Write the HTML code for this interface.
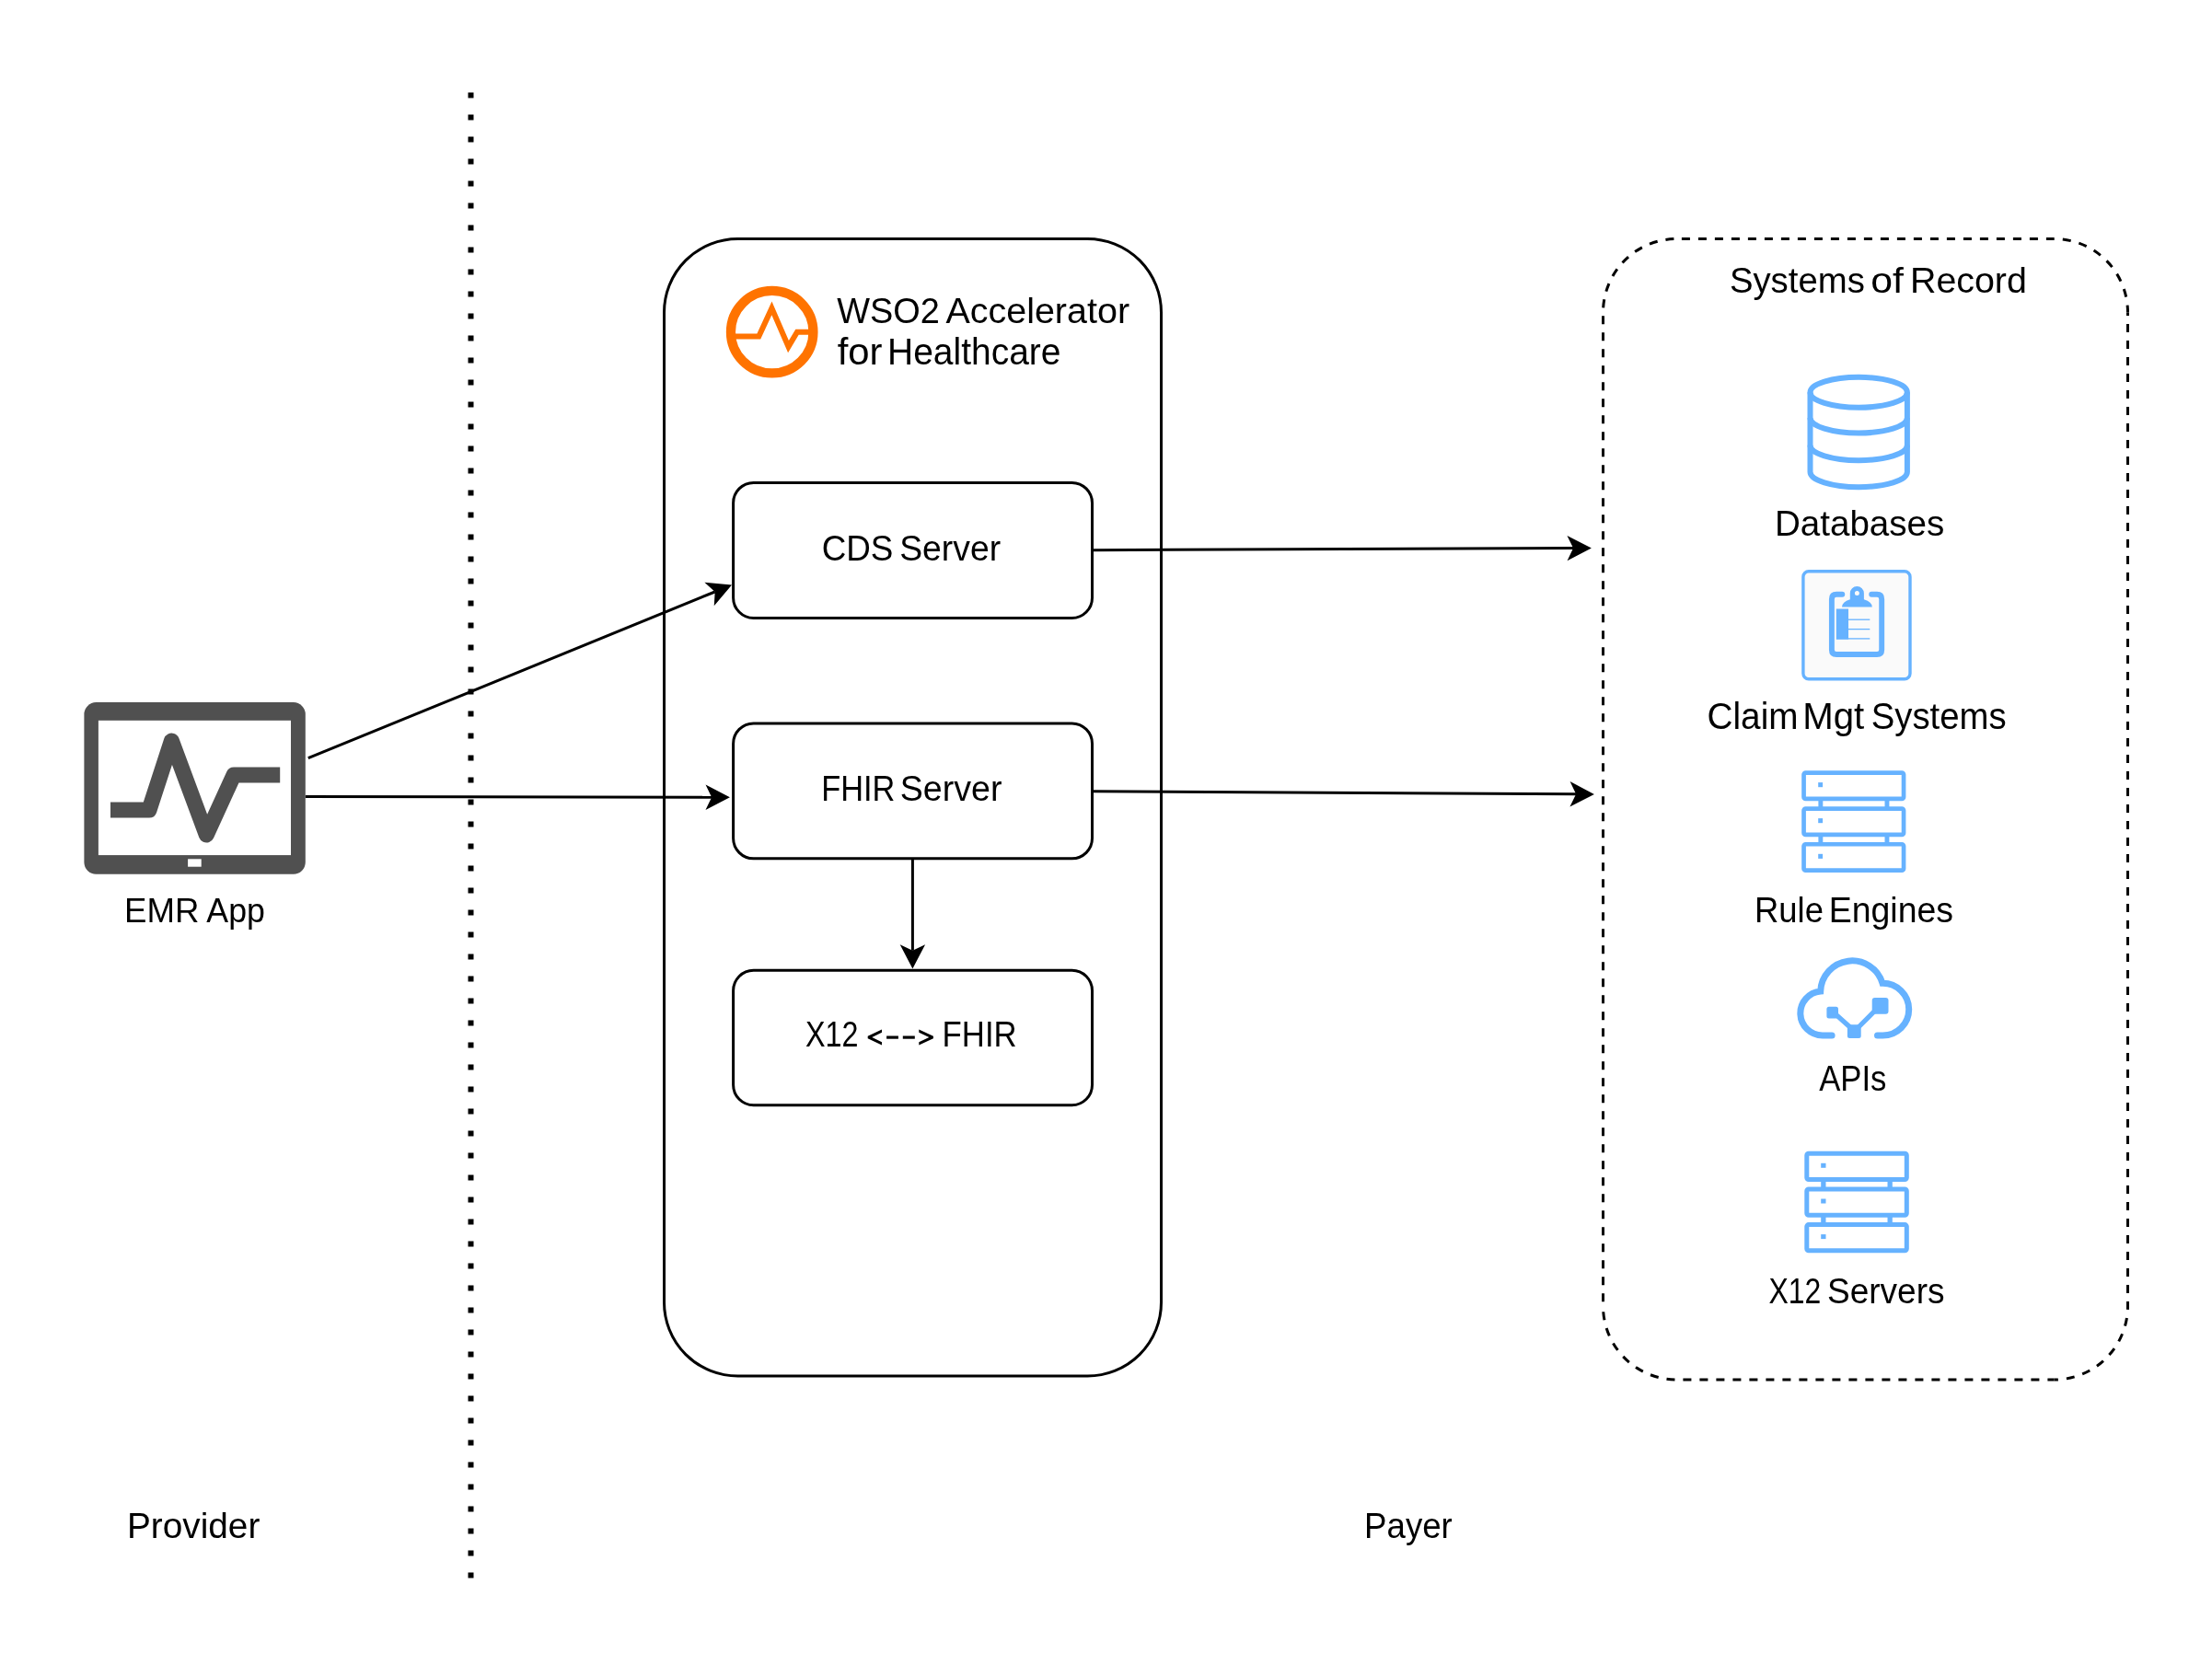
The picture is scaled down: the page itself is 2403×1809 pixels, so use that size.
<!DOCTYPE html>
<html><head><meta charset="utf-8"><style>
html,body{margin:0;padding:0;background:#fff;width:2403px;height:1809px;overflow:hidden}
svg{position:absolute;left:0;top:0;display:block;will-change:transform}
text{font-family:"Liberation Sans",sans-serif;fill:#000}
</style></head><body>
<svg width="2403" height="1809" viewBox="0 0 2403 1809">
<rect width="2403" height="1809" fill="#fff"/>
<line x1="511.5" y1="100.6" x2="511.5" y2="1716" stroke="#000" stroke-width="6" stroke-dasharray="5.9 18.1"/>
<rect x="721.5" y="259.5" width="540" height="1235.5" rx="80" ry="80" fill="none" stroke="#000" stroke-width="3"/>
<circle cx="838.7" cy="360.7" r="44.75" fill="none" stroke="#FF7300" stroke-width="10.2"/>
<path d="M799,365.5 L824.3,365.5 L838.4,334.9 L856.5,376.6 L866,360.7 L880,360.7" fill="none" stroke="#FF7300" stroke-width="6" stroke-linejoin="miter"/>
<rect x="796.6" y="524.4" width="389.9" height="147.0" rx="22" ry="22" fill="none" stroke="#000" stroke-width="3"/>
<rect x="796.6" y="785.9" width="389.9" height="146.9" rx="22" ry="22" fill="none" stroke="#000" stroke-width="3"/>
<rect x="796.6" y="1054.3" width="389.9" height="146.4" rx="22" ry="22" fill="none" stroke="#000" stroke-width="3"/>
<path d="M334.80,823.70 L776.67,642.99" stroke="#000" stroke-width="3" fill="none"/><path d="M795.00,635.50 L775.75,658.17 L776.67,642.99 L765.38,632.81 Z" fill="#000" stroke="none"/>
<path d="M331.80,865.60 L773.10,866.27" stroke="#000" stroke-width="3" fill="none"/><path d="M792.90,866.30 L766.48,879.96 L773.10,866.27 L766.52,852.56 Z" fill="#000" stroke="none"/>
<path d="M991.40,932.80 L991.40,1032.80" stroke="#000" stroke-width="3" fill="none"/><path d="M991.40,1052.60 L977.70,1026.20 L991.40,1032.80 L1005.10,1026.20 Z" fill="#000" stroke="none"/>
<path d="M1186.50,597.70 L1709.10,595.58" stroke="#000" stroke-width="3" fill="none"/><path d="M1728.90,595.50 L1702.56,609.31 L1709.10,595.58 L1702.44,581.91 Z" fill="#000" stroke="none"/>
<path d="M1186.50,859.70 L1712.10,862.78" stroke="#000" stroke-width="3" fill="none"/><path d="M1731.90,862.90 L1705.42,876.44 L1712.10,862.78 L1705.58,849.05 Z" fill="#000" stroke="none"/>
<path d="M1821.5,259.5 L2231.5,259.5" fill="none" stroke="#000" stroke-width="3" stroke-dasharray="9 9" stroke-dashoffset="12.6"/>
<path d="M2231.5,259.5 A80,80 0 0 1 2311.5,339.5" fill="none" stroke="#000" stroke-width="3" stroke-dasharray="9 9" stroke-dashoffset="8.6"/>
<path d="M2311.5,339.5 L2311.5,1419" fill="none" stroke="#000" stroke-width="3" stroke-dasharray="9 9" stroke-dashoffset="5.5"/>
<path d="M2311.5,1419 A80,80 0 0 1 2231.5,1499" fill="none" stroke="#000" stroke-width="3" stroke-dasharray="9 9" stroke-dashoffset="5"/>
<path d="M2231.5,1499 L1821.5,1499" fill="none" stroke="#000" stroke-width="3" stroke-dasharray="9 9" stroke-dashoffset="1.9"/>
<path d="M1821.5,1499 A80,80 0 0 1 1741.5,1419" fill="none" stroke="#000" stroke-width="3" stroke-dasharray="9 9" stroke-dashoffset="15.9"/>
<path d="M1741.5,1419 L1741.5,339.5" fill="none" stroke="#000" stroke-width="3" stroke-dasharray="9 9" stroke-dashoffset="13.2"/>
<path d="M1741.5,339.5 A80,80 0 0 1 1821.5,259.5" fill="none" stroke="#000" stroke-width="3" stroke-dasharray="9 9" stroke-dashoffset="12.7"/>
<rect x="91.4" y="763.1" width="240.4" height="186.7" rx="13" ry="13" fill="#505050"/>
<rect x="106.9" y="782.8" width="209.1" height="146.3" fill="#fff"/>
<rect x="204.1" y="933.3" width="14.6" height="8.4" fill="#fff"/>
<path d="M120,880 L162,880 L186.4,805 L224.3,907 L254,842 L304.2,842" fill="none" stroke="#505050" stroke-width="17" stroke-linejoin="round"/>
<ellipse cx="2019.2" cy="426.3" rx="52.7" ry="16.45" fill="none" stroke="#66B2FF" stroke-width="6"/>
<path d="M1966.5,426.3 L1966.5,512.75 A52.7,16.45 0 0 0 2071.9,512.75 L2071.9,426.3" fill="none" stroke="#66B2FF" stroke-width="6"/>
<path d="M1966.5,454.05 A52.7,16.45 0 0 0 2071.9,454.05" fill="none" stroke="#66B2FF" stroke-width="6"/>
<path d="M1966.5,483.75 A52.7,16.45 0 0 0 2071.9,483.75" fill="none" stroke="#66B2FF" stroke-width="6"/>
<rect x="1958.9" y="620.8" width="116.1" height="117" rx="6" ry="6" fill="#FAFAFA" stroke="#66B2FF" stroke-width="3.4"/>
<path d="M2001.3,645.8 L1995,645.8 Q1989.9,645.8 1989.9,650.9 L1989.9,705.9 Q1989.9,711 1995,711 L2039.1,711 Q2044.2,711 2044.2,705.9 L2044.2,650.9 Q2044.2,645.8 2039.1,645.8 L2033.2,645.8" fill="none" stroke="#66B2FF" stroke-width="5.9" stroke-linecap="round"/>
<path d="M2009.8,651.2 L2009.8,644.5 A7.55,7.55 0 0 1 2024.9,644.5 L2024.9,651.2 Q2033.8,654 2033.8,659.5 L2001,659.5 Q2001,654 2009.8,651.2 Z M2017.4,642 A2.5,2.5 0 1 0 2017.4,647 A2.5,2.5 0 1 0 2017.4,642 Z" fill="#66B2FF" fill-rule="evenodd"/>
<rect x="1994.8" y="661.5" width="13.2" height="33.3" fill="#66B2FF"/>
<line x1="2008" y1="673.2" x2="2031.3" y2="673.2" stroke="#66B2FF" stroke-width="1.3"/>
<line x1="2008" y1="683.6" x2="2031.3" y2="683.6" stroke="#66B2FF" stroke-width="1.3"/>
<line x1="2008" y1="693.9" x2="2031.3" y2="693.9" stroke="#66B2FF" stroke-width="1.3"/>
<rect x="1959.55" y="839.55" width="108.50" height="28.40" rx="2" ry="2" fill="none" stroke="#66B2FF" stroke-width="4.7"/><rect x="1975.20" y="850.10" width="4.90" height="5.10" fill="#66B2FF"/><rect x="1975.40" y="869.30" width="4.90" height="7.90" fill="#66B2FF"/><rect x="2047.50" y="869.30" width="4.90" height="7.90" fill="#66B2FF"/><rect x="1959.55" y="878.55" width="108.50" height="28.40" rx="2" ry="2" fill="none" stroke="#66B2FF" stroke-width="4.7"/><rect x="1975.20" y="889.10" width="4.90" height="5.10" fill="#66B2FF"/><rect x="1975.40" y="908.30" width="4.90" height="7.60" fill="#66B2FF"/><rect x="2047.50" y="908.30" width="4.90" height="7.60" fill="#66B2FF"/><rect x="1959.55" y="917.25" width="108.50" height="28.40" rx="2" ry="2" fill="none" stroke="#66B2FF" stroke-width="4.7"/><rect x="1975.20" y="927.80" width="4.90" height="5.10" fill="#66B2FF"/>
<rect x="1962.80" y="1253.30" width="108.50" height="28.20" rx="2" ry="2" fill="none" stroke="#66B2FF" stroke-width="5.0"/><rect x="1978.20" y="1263.80" width="5.30" height="5.00" fill="#66B2FF"/><rect x="1978.20" y="1283.00" width="5.30" height="7.50" fill="#66B2FF"/><rect x="2050.50" y="1283.00" width="5.30" height="7.50" fill="#66B2FF"/><rect x="1962.80" y="1292.00" width="108.50" height="28.20" rx="2" ry="2" fill="none" stroke="#66B2FF" stroke-width="5.0"/><rect x="1978.20" y="1302.50" width="5.30" height="5.00" fill="#66B2FF"/><rect x="1978.20" y="1321.70" width="5.30" height="7.40" fill="#66B2FF"/><rect x="2050.50" y="1321.70" width="5.30" height="7.40" fill="#66B2FF"/><rect x="1962.80" y="1330.60" width="108.50" height="28.20" rx="2" ry="2" fill="none" stroke="#66B2FF" stroke-width="5.0"/><rect x="1978.20" y="1341.10" width="5.30" height="5.00" fill="#66B2FF"/>
<path d="M1990.1,1125 L1979.85,1125 A24.05,24.05 0 0 1 1977.7,1077 A34.4,34.4 0 0 1 2045,1068.3 A28.35,28.35 0 0 1 2073.7,1096.65 A28.35,28.35 0 0 1 2045.35,1125 L2039.5,1125" fill="none" stroke="#66B2FF" stroke-width="7" stroke-linecap="round" stroke-linejoin="miter"/>
<rect x="1984.4" y="1093.8" width="12.6" height="12.6" rx="2.5" fill="#66B2FF"/>
<rect x="2033.7" y="1083.9" width="17.8" height="17.8" rx="3" fill="#66B2FF"/>
<rect x="2006.9" y="1113.2" width="14.8" height="14.8" rx="2.5" fill="#66B2FF"/>
<path d="M1993,1101 L2012,1118 M2017,1118 L2038,1097" stroke="#66B2FF" stroke-width="5.2" fill="none"/>
<path d="M942.7,1125.7 L958,1118.5 L958,1121.7 L947.3,1127.05 L958,1132.3 L958,1135.5 L942.7,1128.3 Z" fill="#000"/>
<path d="M1013.9,1125.7 L998.3,1118.5 L998.3,1121.7 L1009.3,1127.05 L998.3,1132.3 L998.3,1135.5 L1013.9,1128.3 Z" fill="#000"/>
<rect x="963.1" y="1125.5" width="12.8" height="3.2" fill="#000"/>
<rect x="980.8" y="1125.5" width="13" height="3.2" fill="#000"/>
<text transform="translate(909.22,350.90) scale(0.9626,1)" font-size="39.39">WSO2</text>
<text transform="translate(1027.40,350.90) scale(1.0024,1)" font-size="39.39">Accelerator</text>
<text transform="translate(909.68,396.00) scale(1.0468,1)" font-size="39.97">for</text>
<text transform="translate(963.98,396.00) scale(0.9757,1)" font-size="39.97">Healthcare</text>
<text transform="translate(892.66,608.70) scale(0.9420,1)" font-size="39.10">CDS</text>
<text transform="translate(977.13,608.70) scale(0.9555,1)" font-size="39.10">Server</text>
<text transform="translate(892.25,870.00) scale(0.8660,1)" font-size="39.68">FHIR</text>
<text transform="translate(977.72,870.00) scale(0.9477,1)" font-size="39.68">Server</text>
<text transform="translate(874.93,1137.00) scale(0.8213,1)" font-size="39.39">X12</text>
<text transform="translate(1023.62,1137.00) scale(0.8816,1)" font-size="39.39">FHIR</text>
<text transform="translate(135.07,1002.00) scale(0.9953,1)" font-size="36.77">EMR</text>
<text transform="translate(224.30,1002.00) scale(0.9721,1)" font-size="36.77">App</text>
<text transform="translate(1878.88,317.60) scale(0.9844,1)" font-size="38.95">Systems</text>
<text transform="translate(2032.29,317.60) scale(1.0983,1)" font-size="38.95">of</text>
<text transform="translate(2074.95,317.60) scale(1.0110,1)" font-size="38.95">Record</text>
<text transform="translate(1927.91,581.70) scale(1.0132,1)" font-size="38.08">Databases</text>
<text transform="translate(1854.56,791.80) scale(0.9725,1)" font-size="39.83">Claim</text>
<text transform="translate(1958.18,791.80) scale(1.0107,1)" font-size="39.83">Mgt</text>
<text transform="translate(2032.79,791.80) scale(0.9615,1)" font-size="39.83">Systems</text>
<text transform="translate(1905.99,1001.80) scale(0.9213,1)" font-size="39.54">Rule</text>
<text transform="translate(1986.70,1001.80) scale(0.9474,1)" font-size="39.54">Engines</text>
<text transform="translate(1976.20,1184.70) scale(0.8812,1)" font-size="39.39">APIs</text>
<text transform="translate(1921.44,1415.80) scale(0.8109,1)" font-size="39.39">X12</text>
<text transform="translate(1984.95,1415.80) scale(0.9399,1)" font-size="39.39">Servers</text>
<text transform="translate(137.90,1670.90) scale(0.9811,1)" font-size="39.54">Provider</text>
<text transform="translate(1482.07,1670.80) scale(0.9378,1)" font-size="39.10">Payer</text>
</svg>
</body></html>
